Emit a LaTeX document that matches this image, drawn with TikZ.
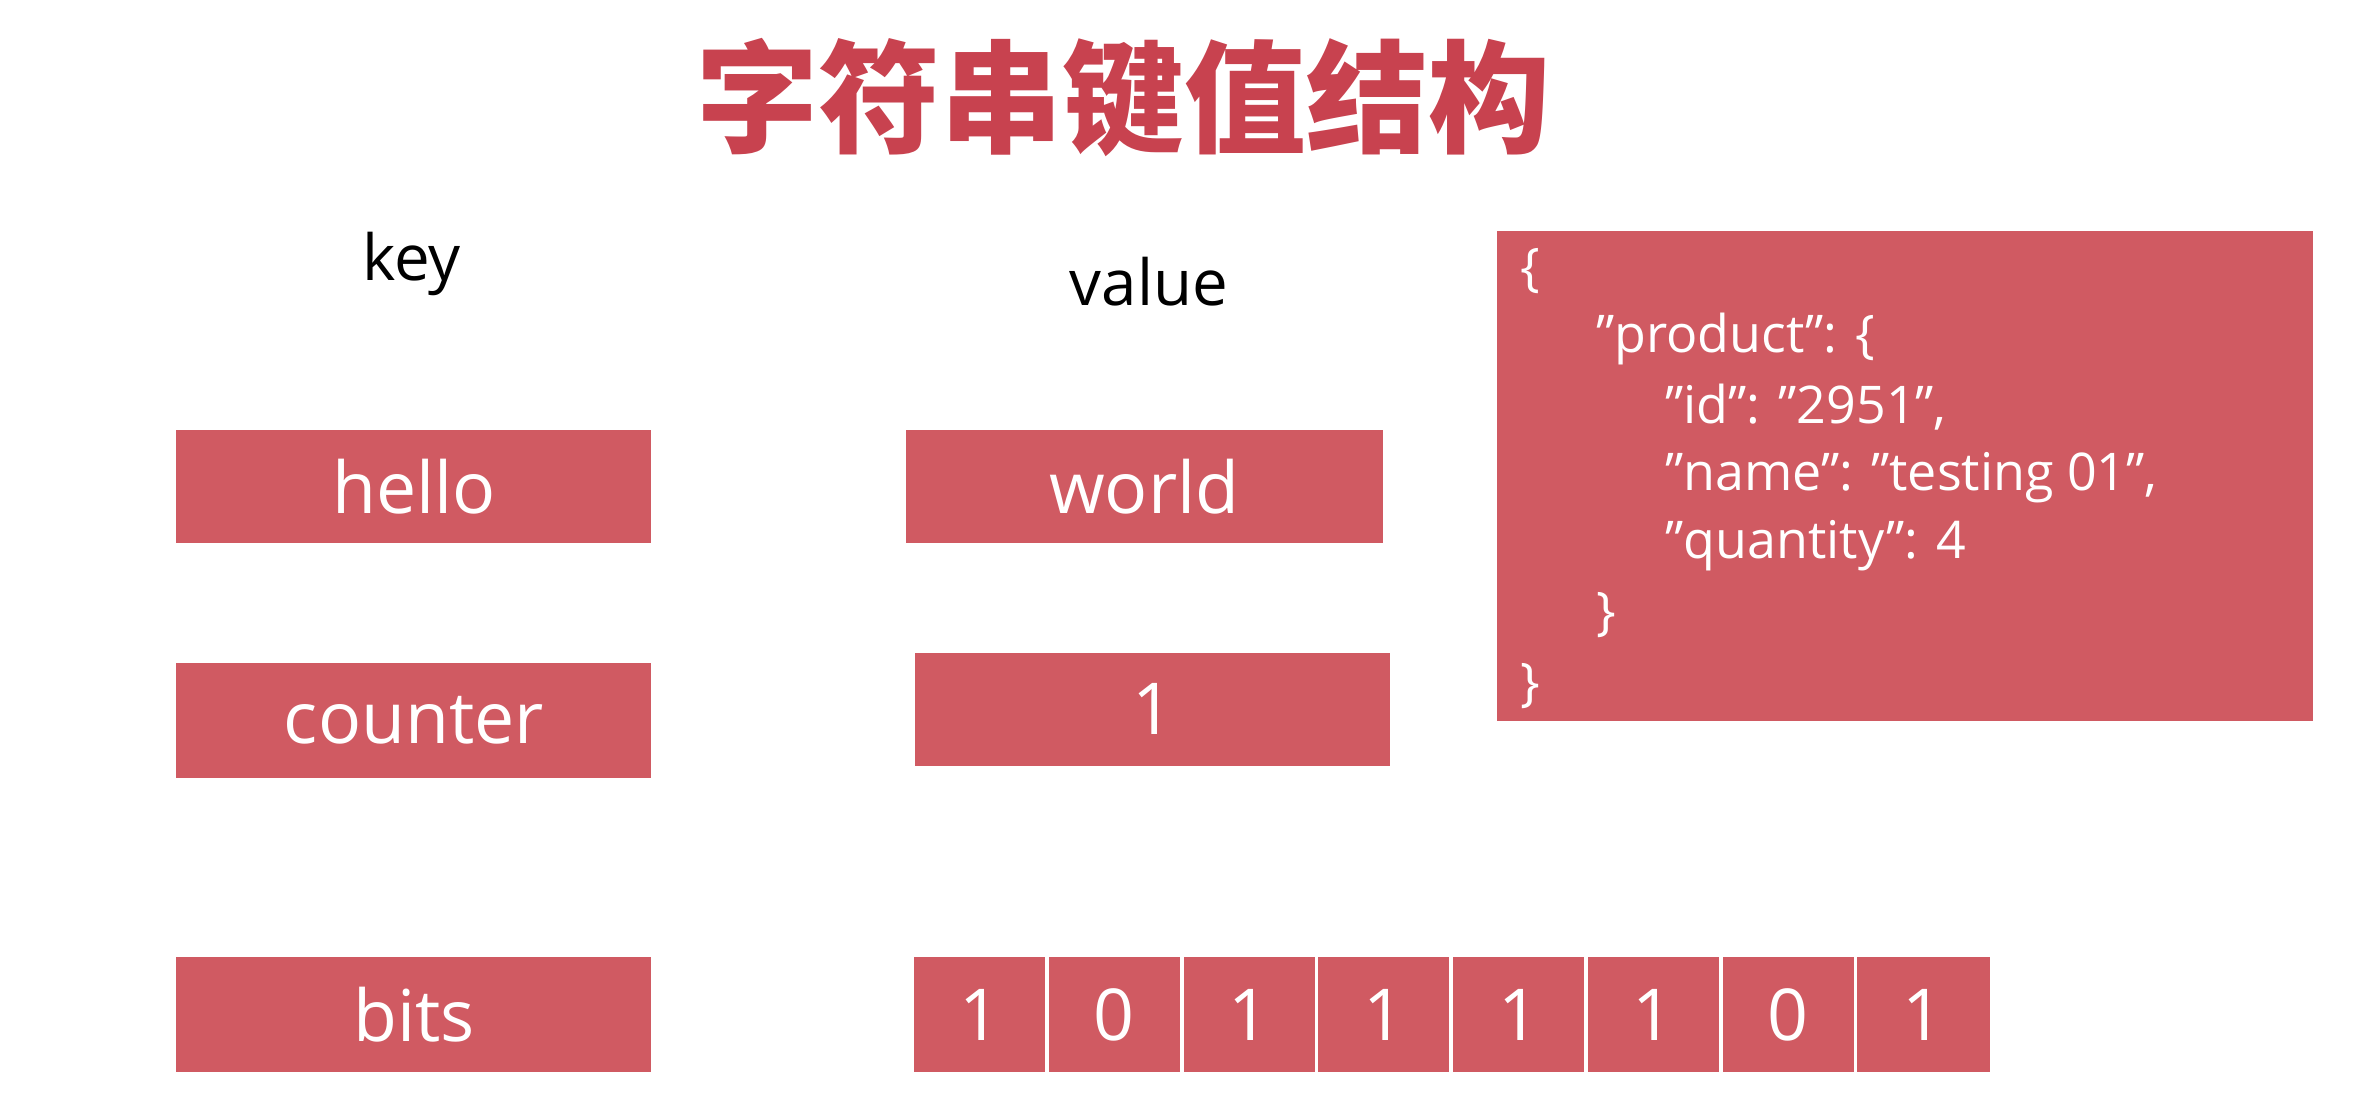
\documentclass[tikz,border=0pt]{standalone}
\usepackage{fontspec}
\setmainfont{Open Sans}
\newfontfamily\cjk{Noto Sans CJK SC}
\definecolor{boxred}{HTML}{D05A62}
\definecolor{titlered}{HTML}{C8424F}
\begin{document}
\begin{tikzpicture}[x=0.01cm,y=-0.01cm,
  kv/.style={fill=boxred,draw=none,inner sep=0,text=white,font=\fontsize{13.5}{16}\selectfont},
  lbl/.style={font=\fontsize{12}{14}\selectfont,text=black},
  js/.style={anchor=west,text=white,font=\fontsize{9.8}{12}\selectfont,inner sep=0}]
\useasboundingbox (0,0) rectangle (1568,730);
\node[font=\cjk\bfseries\fontsize{23}{26}\selectfont,text=titlered] (title) at (745,65) {字符串键值结构};
\node[lbl] (key) at (273,175) {key};
\node[lbl] (value) at (762,187) {value};
\path[kv] (117,285) rectangle (432,360) node[midway] (hello) {hello};
\path[kv] (601,285) rectangle (917,360) node[midway] (world) {world};
\path[kv] (117,440) rectangle (432,516) node[midway] (counter) {counter};
\path[kv] (607,433) rectangle (922,508) node[midway] (one) {1};
\path[kv] (117,635) rectangle (432,711) node[midway] (bits) {bits};
\foreach \b [count=\i from 0] in {1,0,1,1,1,1,0,1}{
  \path[kv] ({605+\i*89.4},635) rectangle ({605+(\i+1)*89.4},711) node[midway] (b\i) {\b};
  \draw[white,line width=0.7pt] ({605+\i*89.4},635) -- ({605+\i*89.4},711);
}
\path[fill=boxred] (993,153) rectangle (1534,478);
\node[js] (j1) at (1008,180) {\{};
\node[js] (j2) at (1058,225) {"product": \{};
\node[js] (j3) at (1104,270) {"id": "2951",};
\node[js] (j4) at (1104,317) {"name": "testing 01",};
\node[js] (j5) at (1104,362) {"quantity": 4};
\node[js] (j6) at (1058,408) {\}};
\node[js] (j7) at (1008,455) {\}};
\end{tikzpicture}
\end{document}
